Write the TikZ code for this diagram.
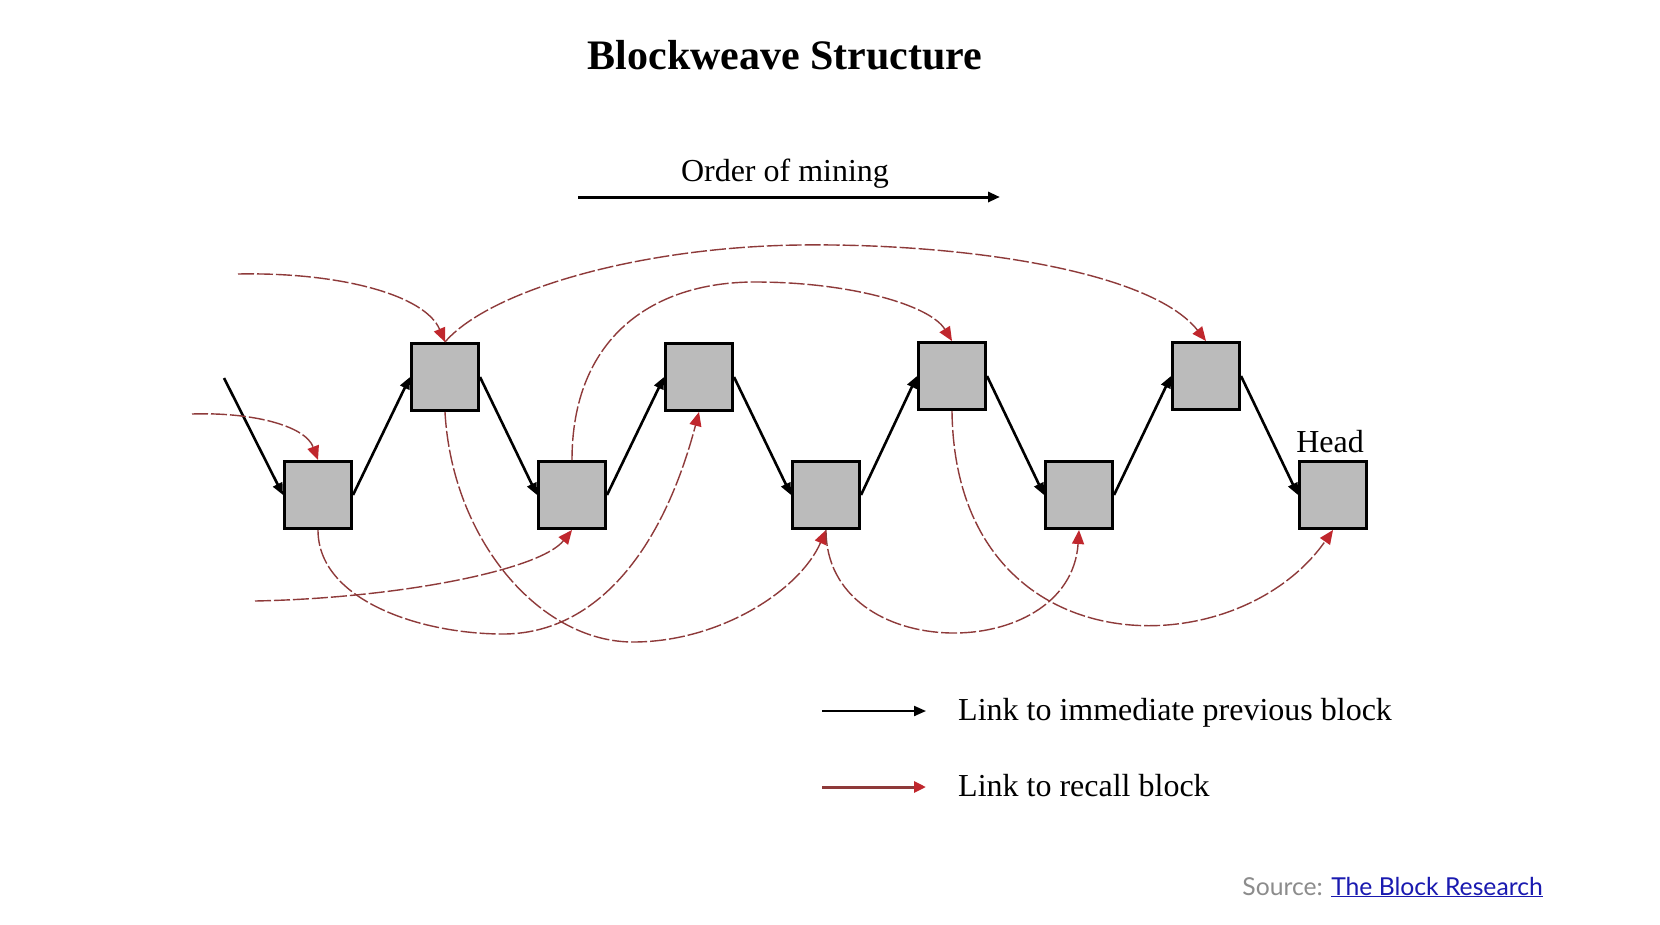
\documentclass[tikz,border=0pt]{standalone}
\usepackage{fontspec}
\setmainfont{Liberation Serif}
\newfontfamily\srcfont{Lato}
\usetikzlibrary{arrows.meta}
\definecolor{boxgray}{HTML}{BBBBBB}
\definecolor{linkred}{HTML}{8E3A3A}
\definecolor{tipred}{HTML}{C0272D}
\definecolor{srcgray}{HTML}{8C8C8C}
\definecolor{srcblue}{HTML}{1A1AB0}
\begin{document}
\begin{tikzpicture}[x=1pt,y=-1pt,
 block/.style={draw=black, line width=3pt, fill=boxgray, minimum size=67pt, inner sep=0pt},
 prev/.style={draw=black, line width=2.6pt, -{Triangle[length=12pt,width=10pt]}},
 recall/.style={draw=linkred, line width=1.4pt, dash pattern=on 16pt off 3pt, -{Triangle[length=14pt,width=12pt,color=tipred]}},
 lbl/.style={font=\fontsize{32}{38}\selectfont, inner sep=0pt}
]
\fill[white] (0,0) rectangle (1660,924);
\useasboundingbox (0,0) rectangle (1660,924);

\node[font=\bfseries\fontsize{42}{50}\selectfont, inner sep=0pt] (title) at (785,55) {Blockweave Structure};
\node[lbl, anchor=base] (order) at (785,181) {Order of mining};
\coordinate (oa) at (578,197);
\coordinate (ob) at (1000,197);
\draw[line width=3pt, -{Triangle[length=12pt,width=10pt]}] (oa) -- (ob);

\node[block] (b1) at (318,495) {};
\node[block] (b2) at (445,377) {};
\node[block] (b3) at (572,495) {};
\node[block] (b4) at (699,377) {};
\node[block] (b5) at (826,495) {};
\node[block] (b6) at (952,376) {};
\node[block] (b7) at (1079,495) {};
\node[block] (b8) at (1206,376) {};
\node[block] (b9) at (1333,495) {};
\node[lbl, anchor=base] (head) at (1330,452) {Head};

\coordinate (s0) at (224,378);
\draw[prev] (s0) -- (b1.west);
\draw[prev] (b1.east) -- (b2.west);
\draw[prev] (b2.east) -- (b3.west);
\draw[prev] (b3.east) -- (b4.west);
\draw[prev] (b4.east) -- (b5.west);
\draw[prev] (b5.east) -- (b6.west);
\draw[prev] (b6.east) -- (b7.west);
\draw[prev] (b7.east) -- (b8.west);
\draw[prev] (b8.east) -- (b9.west);

% recall links, top
\coordinate (r1) at (238,274);
\coordinate (r2) at (192,414);
\coordinate (r3) at (255,601);
\coordinate (pk1) at (800,245);
\coordinate (pk2) at (755,282);
\draw[recall] (r1) .. controls (340,272) and (425,295) .. (b2.north);
\draw[recall] (b2.north) .. controls (490,290) and (640,247) .. (pk1) .. controls (960,243) and (1150,270) .. (b8.north);
\draw[recall] (b3.north) .. controls (572,340) and (650,282) .. (pk2) .. controls (850,282) and (930,305) .. (b6.north);
\draw[recall] (r2) .. controls (250,412) and (305,425) .. (b1.north);
% recall links, bottom
\coordinate (lo1) at (503,634);
\coordinate (lo2) at (633,642);
\draw[recall] (b1.south) .. controls (318,600) and (420,634) .. (lo1) .. controls (590,634) and (660,560) .. (b4.south);
\draw[recall] (r3) .. controls (400,598) and (540,570) .. (b3.south);
\draw[recall] (b2.south) .. controls (452,540) and (540,642) .. (lo2) .. controls (720,642) and (800,590) .. (b5.south);
\draw[recall] (b5.south) .. controls (826,665) and (1070,665) .. (b7.south);
\draw[recall] (b6.south) .. controls (955,670) and (1235,670) .. (b9.south);

% legend
\coordinate (l1a) at (822,711);
\coordinate (l1b) at (926,711);
\coordinate (l2a) at (822,787);
\coordinate (l2b) at (926,787);
\draw[line width=2pt, -{Triangle[length=12pt,width=10pt]}] (l1a) -- (l1b);
\draw[draw=linkred, line width=3pt, -{Triangle[length=12pt,width=11pt,color=tipred]}] (l2a) -- (l2b);
\node[lbl, anchor=base west] (t1) at (958,720) {Link to immediate previous block};
\node[lbl, anchor=base west] (t2) at (958,796) {Link to recall block};

\node[anchor=base east, inner sep=0pt, font=\srcfont\fontsize{24.7}{30}\selectfont] (src) at (1543,895) {\textcolor{srcgray}{Source:} \textcolor{srcblue}{\underline{The Block Research}}};
\end{tikzpicture}
\end{document}
